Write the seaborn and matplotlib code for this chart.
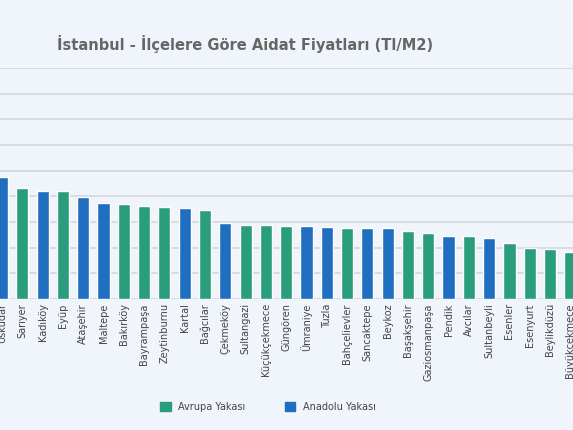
import matplotlib
matplotlib.use("Agg")
import matplotlib.pyplot as plt
import seaborn as sns
import pandas as pd
from matplotlib.patches import Patch

districts = ["Üsküdar", "Sarıyer", "Kadıköy", "Eyüp", "Ataşehir", "Maltepe", "Bakırköy",
             "Bayrampaşa", "Zeytinburnu", "Kartal", "Bağcılar", "Çekmeköy", "Sultangazi",
             "Küçükçekmece", "Güngören", "Ümraniye", "Tuzla", "Bahçelievler", "Sancaktepe",
             "Beykoz", "Başakşehir", "Gaziosmanpaşa", "Pendik", "Avcılar", "Sultanbeyli",
             "Esenler", "Esenyurt", "Beylikdüzü", "Büyükçekmece"]
values = [4.75, 4.32, 4.2, 4.2, 3.97, 3.74, 3.7, 3.64, 3.6, 3.54, 3.46, 2.98, 2.9,
          2.9, 2.86, 2.84, 2.8, 2.76, 2.76, 2.76, 2.63, 2.59, 2.45, 2.45, 2.37,
          2.2, 2.0, 1.93, 1.85]
sides = ["Anadolu", "Avrupa", "Anadolu", "Avrupa", "Anadolu", "Anadolu", "Avrupa",
         "Avrupa", "Avrupa", "Anadolu", "Avrupa", "Anadolu", "Avrupa",
         "Avrupa", "Avrupa", "Anadolu", "Anadolu", "Avrupa", "Anadolu",
         "Anadolu", "Avrupa", "Avrupa", "Anadolu", "Avrupa", "Anadolu",
         "Avrupa", "Avrupa", "Avrupa", "Avrupa"]

GREEN = "#2a9d7a"
BLUE = "#1f6ec0"
BG = "#f0f4fb"
palette = {"Avrupa": GREEN, "Anadolu": BLUE}

df = pd.DataFrame({"ilce": districts, "aidat": values, "yaka": sides})

sns.set_style("white")
plt.rcParams['font.family'] = ['DejaVu Sans']

fig = plt.figure(figsize=(5.73, 4.30), dpi=100, facecolor=BG)
ax = fig.add_axes([0, 131 / 430, 1, 231 / 430], facecolor=BG)

sns.barplot(data=df, x="ilce", y="aidat", hue="yaka", palette=palette, saturation=1,
            dodge=False, width=0.6, legend=False, ax=ax, zorder=3)

ax.set_ylim(0, 9)
ax.set_xlim(-0.1, 28.13)
ax.set_yticks(range(0, 10))
ax.set_yticklabels([])
ax.tick_params(axis="y", length=0)
ax.tick_params(axis="x", length=0, pad=3)
ax.grid(axis="y", color="#d3d8e0", linewidth=1.2, zorder=0)
ax.set_xlabel("")
ax.set_ylabel("")
for s in ax.spines.values():
    s.set_visible(False)
plt.setp(ax.get_xticklabels(), rotation=90, fontsize=7, color="#444444")

fig.text(245 / 573, 1 - 44 / 430, "İstanbul - İlçelere Göre Aidat Fiyatları (Tl/M2)",
         ha="center", va="center", fontsize=10.5, color="#666666", fontweight="bold")

handles = [Patch(color=GREEN, label="Avrupa Yakası"), Patch(color=BLUE, label="Anadolu Yakası")]
fig.legend(handles=handles, loc="center", bbox_to_anchor=(268 / 573, 1 - 407 / 430),
           ncol=2, frameon=False, fontsize=7, handlelength=1.1, handleheight=1.1,
           columnspacing=4, labelcolor="#444444")

fig.savefig("out.png", dpi=100, facecolor=BG)
